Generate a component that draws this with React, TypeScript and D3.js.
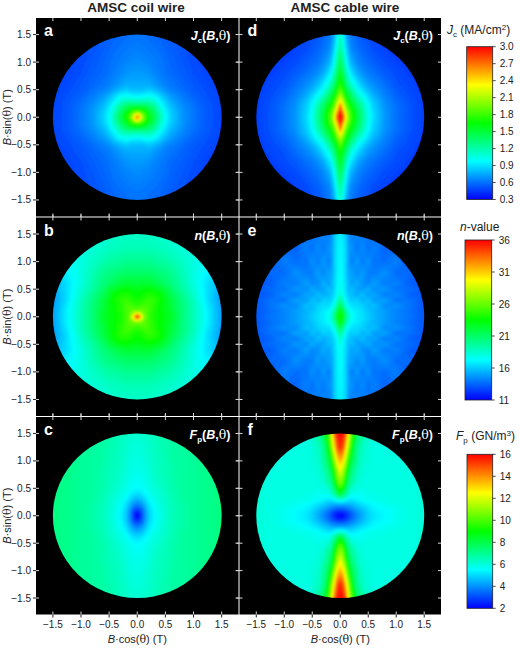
import React, { useEffect, useRef } from 'react';
import * as d3 from 'd3';

// field grid, one quadrant of the (B cos, B sin) plane, mirrored when drawn
const xGrid = [0, 0.05, 0.1, 0.15, 0.2, 0.3, 0.4, 0.5, 0.6, 0.8, 1, 1.25, 1.55];
const yGrid = [0, 0.05, 0.1, 0.2, 0.3, 0.4, 0.5, 0.6, 0.8, 1, 1.25, 1.55];

const jcCoil = [
  [2.75, 2.35, 2.0, 1.8, 1.65, 1.45, 1.2, 0.98, 0.85, 0.7, 0.61, 0.53, 0.47],
  [2.45, 2.2, 1.95, 1.75, 1.6, 1.42, 1.18, 0.97, 0.85, 0.7, 0.61, 0.53, 0.47],
  [1.9, 1.85, 1.75, 1.65, 1.55, 1.38, 1.15, 0.96, 0.84, 0.7, 0.61, 0.53, 0.47],
  [1.45, 1.45, 1.45, 1.42, 1.38, 1.25, 1.06, 0.9, 0.8, 0.68, 0.6, 0.53, 0.47],
  [1.12, 1.12, 1.14, 1.14, 1.14, 1.08, 0.94, 0.84, 0.75, 0.65, 0.58, 0.52, 0.47],
  [0.93, 0.93, 0.94, 0.96, 0.98, 0.94, 0.86, 0.76, 0.7, 0.62, 0.56, 0.51, 0.47],
  [0.8, 0.8, 0.8, 0.82, 0.84, 0.8, 0.74, 0.68, 0.64, 0.59, 0.54, 0.5, 0.47],
  [0.76, 0.76, 0.76, 0.76, 0.76, 0.72, 0.68, 0.64, 0.61, 0.57, 0.53, 0.49, 0.46],
  [0.71, 0.71, 0.71, 0.7, 0.69, 0.66, 0.63, 0.6, 0.58, 0.55, 0.51, 0.48, 0.46],
  [0.67, 0.67, 0.66, 0.66, 0.65, 0.63, 0.61, 0.59, 0.57, 0.53, 0.5, 0.47, 0.45],
  [0.63, 0.63, 0.62, 0.62, 0.61, 0.6, 0.59, 0.57, 0.55, 0.52, 0.49, 0.46, 0.44],
  [0.59, 0.59, 0.59, 0.59, 0.58, 0.57, 0.56, 0.55, 0.53, 0.5, 0.48, 0.45, 0.43],
];

const jcCable = [
  [3.0, 2.8, 2.3, 1.95, 1.75, 1.5, 1.25, 1.02, 0.88, 0.7, 0.6, 0.52, 0.45],
  [3.0, 2.75, 2.25, 1.95, 1.75, 1.5, 1.25, 1.02, 0.88, 0.7, 0.6, 0.52, 0.45],
  [2.95, 2.55, 2.15, 1.9, 1.72, 1.47, 1.23, 1.0, 0.87, 0.7, 0.6, 0.52, 0.45],
  [2.75, 2.3, 1.95, 1.75, 1.62, 1.4, 1.18, 0.98, 0.85, 0.69, 0.6, 0.52, 0.45],
  [2.4, 2.05, 1.78, 1.62, 1.5, 1.28, 1.08, 0.93, 0.82, 0.67, 0.58, 0.51, 0.45],
  [2.1, 1.85, 1.65, 1.5, 1.38, 1.12, 0.98, 0.86, 0.76, 0.64, 0.56, 0.5, 0.45],
  [1.9, 1.7, 1.52, 1.38, 1.22, 1.0, 0.88, 0.78, 0.71, 0.62, 0.54, 0.49, 0.44],
  [1.75, 1.58, 1.4, 1.22, 1.08, 0.92, 0.8, 0.72, 0.67, 0.59, 0.52, 0.48, 0.44],
  [1.58, 1.42, 1.2, 1.0, 0.9, 0.76, 0.68, 0.63, 0.6, 0.54, 0.5, 0.46, 0.43],
  [1.42, 1.28, 1.02, 0.86, 0.76, 0.67, 0.61, 0.58, 0.55, 0.5, 0.47, 0.44, 0.42],
  [1.25, 1.1, 0.88, 0.74, 0.66, 0.6, 0.56, 0.53, 0.5, 0.47, 0.44, 0.42, 0.4],
  [1.1, 0.95, 0.75, 0.65, 0.6, 0.55, 0.52, 0.5, 0.47, 0.44, 0.42, 0.4, 0.38],
];

const nCoil = [
  [36, 32, 28, 26, 25, 24, 23.5, 23, 22.5, 20.5, 19, 17, 14.5],
  [31, 29, 27, 25.5, 25, 24, 23.5, 23, 22.5, 20.5, 19, 17, 14.5],
  [26, 26.5, 26, 25.5, 25, 24.2, 23.5, 23, 22.3, 20.5, 19, 17, 14.5],
  [24.5, 24.8, 25, 25.3, 25, 24.3, 23.5, 23, 22, 20.5, 19, 16.8, 14.5],
  [24, 24, 24.3, 24.6, 24.8, 24.5, 23.8, 22.8, 22, 20.3, 18.8, 16.5, 14.5],
  [23.5, 23.5, 23.8, 24, 24.2, 24, 23.5, 22.5, 21.5, 20, 18.5, 16.5, 14.5],
  [23, 23, 23, 23.3, 23.3, 23, 22.5, 22, 21, 19.5, 18.3, 16.5, 15],
  [22, 22.3, 22.3, 22.3, 22.3, 22, 21.5, 21, 20.5, 19.3, 18, 16.5, 15],
  [21, 21, 21, 21, 21, 20.8, 20.5, 20.3, 20, 19, 18, 17, 16],
  [20, 20, 20, 20, 20, 19.8, 19.6, 19.5, 19.2, 18.6, 18, 17.3, 16.5],
  [19, 19, 19, 19, 19, 18.9, 18.8, 18.7, 18.5, 18.2, 18, 17.5, 17],
  [18.5, 18.5, 18.5, 18.5, 18.5, 18.4, 18.4, 18.3, 18.2, 18, 18, 17.5, 17],
];

const nCable = [
  [24, 23, 20.5, 18.5, 17.5, 16.8, 16.5, 16, 15.5, 14.8, 14.3, 13.8, 13],
  [24, 22.5, 20, 18.5, 17.5, 16.8, 16.5, 16, 15.5, 14.8, 14.3, 13.8, 13],
  [23.5, 22, 19.5, 18, 17.2, 16.8, 16.3, 15.8, 15.4, 14.9, 14.2, 13.7, 13],
  [21.5, 20, 18, 17, 16.5, 16.4, 16.2, 15.5, 15.8, 14.4, 14.6, 13.8, 13],
  [20, 18.5, 17, 16.3, 16, 16.2, 15.3, 15.9, 14.8, 15, 13.8, 13.8, 13],
  [18.5, 17.5, 16.5, 16, 15.6, 15.2, 15.8, 14.8, 15.2, 14, 14.4, 13.4, 13],
  [18, 17.2, 16.4, 15.4, 15.8, 15, 14.8, 15.4, 14.4, 14.8, 13.8, 13.7, 13],
  [17.7, 17, 16.3, 15.6, 14.8, 15.4, 14.5, 14.3, 15, 14, 14.2, 13.3, 13.1],
  [17.4, 16.9, 16.2, 15, 15.1, 14.3, 14.9, 14.1, 14, 14.6, 13.6, 13.6, 12.9],
  [17.4, 16.8, 16.2, 14.9, 14.1, 14.8, 14, 14.6, 13.8, 13.7, 14.1, 13.1, 13.1],
  [17.2, 16.8, 16.2, 14.8, 14.7, 13.9, 14.5, 13.7, 14.2, 13.4, 13.7, 13, 12.9],
  [17, 16.6, 16, 14.6, 13.9, 14.4, 13.7, 14.2, 13.5, 13.7, 13.1, 13.1, 13],
];

const fpCoil = [
  [2, 2.4, 3.4, 4.2, 4.8, 5.4, 5.8, 6.1, 6.4, 6.7, 6.9, 7.1, 7.2],
  [2.3, 2.6, 3.5, 4.2, 4.8, 5.4, 5.8, 6.1, 6.4, 6.7, 6.9, 7.1, 7.2],
  [2.8, 3, 3.6, 4.3, 4.9, 5.5, 5.9, 6.1, 6.4, 6.7, 6.9, 7.1, 7.2],
  [3.7, 3.9, 4.2, 4.7, 5.1, 5.6, 5.9, 6.2, 6.4, 6.7, 6.9, 7.1, 7.2],
  [4.5, 4.6, 4.8, 5.1, 5.4, 5.8, 6, 6.2, 6.5, 6.8, 6.9, 7.1, 7.2],
  [5.1, 5.1, 5.3, 5.5, 5.7, 5.9, 6.1, 6.3, 6.5, 6.8, 6.9, 7.1, 7.2],
  [5.5, 5.5, 5.6, 5.7, 5.8, 6, 6.2, 6.4, 6.6, 6.8, 6.9, 7.1, 7.2],
  [5.6, 5.6, 5.7, 5.8, 5.9, 6.1, 6.3, 6.4, 6.6, 6.8, 6.9, 7.1, 7.2],
  [5.8, 5.8, 5.8, 5.9, 6, 6.2, 6.4, 6.5, 6.6, 6.8, 6.9, 7.1, 7.2],
  [5.9, 5.9, 5.9, 6, 6.1, 6.3, 6.4, 6.5, 6.7, 6.8, 6.9, 7.1, 7.2],
  [6, 6, 6, 6.1, 6.2, 6.3, 6.5, 6.6, 6.7, 6.8, 6.9, 7.1, 7.2],
  [6.2, 6.2, 6.2, 6.2, 6.3, 6.4, 6.5, 6.6, 6.7, 6.8, 7, 7.1, 7.2],
];

const fpCable = [
  [2, 2.2, 2.5, 2.9, 3.3, 3.9, 4.4, 4.9, 5.2, 5.5, 5.7, 5.9, 6],
  [2.3, 2.4, 2.7, 3, 3.4, 4, 4.5, 4.9, 5.2, 5.5, 5.7, 5.9, 6],
  [2.9, 3, 3.2, 3.4, 3.7, 4.2, 4.6, 5, 5.3, 5.5, 5.7, 5.9, 6],
  [4.3, 4.3, 4.3, 4.4, 4.5, 4.8, 5.1, 5.3, 5.5, 5.7, 5.8, 5.9, 6],
  [6.2, 6, 5.6, 5.3, 5.2, 5.4, 5.6, 5.7, 5.8, 5.8, 5.9, 5.9, 6],
  [8.3, 7.9, 7, 6.2, 5.8, 5.7, 5.7, 5.8, 5.8, 5.9, 5.9, 5.9, 6],
  [9.7, 9, 7.8, 6.8, 6.2, 5.9, 5.8, 5.9, 5.9, 5.9, 5.9, 5.9, 6],
  [10.7, 10, 8.5, 7.4, 6.7, 6.1, 5.9, 5.9, 5.9, 5.9, 5.9, 5.9, 6],
  [12.2, 11.2, 9.5, 8.2, 7.3, 6.4, 6, 5.9, 5.9, 5.9, 5.9, 5.9, 6],
  [13.5, 12.8, 11, 9.2, 8, 6.8, 6.1, 6, 5.9, 5.9, 5.9, 5.9, 6],
  [15.5, 15, 13, 11, 9, 7, 6.3, 6, 5.9, 5.9, 5.9, 5.9, 6],
  [16, 16, 15, 12.5, 10.5, 8, 6.8, 6.2, 5.9, 5.9, 5.9, 5.9, 6],
];

const jcTicks = [0.3, 0.6, 0.9, 1.2, 1.5, 1.8, 2.1, 2.4, 2.7, 3.0];
const nTicks = [11, 16, 21, 26, 31, 36];
const fpTicks = [2, 4, 6, 8, 10, 12, 14, 16];
const axisTicks = [-1.5, -1, -0.5, 0, 0.5, 1, 1.5];
const rampColors = ['#0000ff', '#00ffff', '#00ff00', '#ffff00', '#ff0000'];

const ramp = d3.scaleLinear<string>().domain([0, 0.25, 0.5, 0.75, 1]).range(rampColors);
const FONT = '"Liberation Sans", Arial, sans-serif';

const panels = [
  { key: 'a', grid: jcCoil, dom: [0.3, 3], sym: 'J', sub: 'c', col: 0, row: 0 },
  { key: 'b', grid: nCoil, dom: [11, 36], sym: 'n', sub: '', col: 0, row: 1 },
  { key: 'c', grid: fpCoil, dom: [2, 16], sym: 'F', sub: 'p', col: 0, row: 2 },
  { key: 'd', grid: jcCable, dom: [0.3, 3], sym: 'J', sub: 'c', col: 1, row: 0 },
  { key: 'e', grid: nCable, dom: [11, 36], sym: 'n', sub: '', col: 1, row: 1 },
  { key: 'f', grid: fpCable, dom: [2, 16], sym: 'F', sub: 'p', col: 1, row: 2 },
];
const colBounds = [[36, 238.5], [239.5, 441]];
const rowBounds = [[18, 216.5], [217.5, 416], [417, 614.5]];

const bars = [
  { ticks: jcTicks, x: [466.7, 492.7], y: [199.5, 46.7] },
  { ticks: nTicks, x: [465, 491.7], y: [400, 240] },
  { ticks: fpTicks, x: [467, 492.7], y: [608.3, 454.3] },
];

function fieldValues(grid: number[][], n: number, m: number) {
  const rowScales = grid.map(r => d3.scaleLinear().domain(xGrid).range(r));
  const px = d3.scaleLinear().domain([0, n - 1]).range([-1.55, 1.55]);
  const py = d3.scaleLinear().domain([0, m - 1]).range([1.55, -1.55]);
  const out = new Float64Array(n * m);
  for (let j = 0; j < m; j++) {
    const ay = Math.abs(py(j));
    for (let i = 0; i < n; i++) {
      const ax = Math.abs(px(i));
      const col = d3.scaleLinear().domain(yGrid).range(rowScales.map(s => s(ax)));
      out[j * n + i] = col(ay);
    }
  }
  return out;
}

function drawPanel(svg: any, p: any) {
  const [x0, x1] = colBounds[p.col];
  const [y0, y1] = rowBounds[p.row];
  const x = d3.scaleLinear().domain([-1.8, 1.8]).range([x0, x1]);
  const y = d3.scaleLinear().domain([-1.8, 1.8]).range([y1, y0]);
  const g = svg.append('g');

  g.append('rect').attr('x', x0).attr('y', y0).attr('width', x1 - x0).attr('height', y1 - y0).attr('fill', '#000');

  const clipId = `disc-${p.key}`;
  svg.select('defs').append('clipPath').attr('id', clipId).append('ellipse')
    .attr('cx', x(0)).attr('cy', y(0)).attr('rx', x(1.5) - x(0)).attr('ry', y(0) - y(1.5));

  const n = 170;
  const m = 170;
  const values = fieldValues(p.grid, n, m);
  const span = p.dom[1] - p.dom[0];
  const levels = 128;
  const thresholds = d3.range(0, levels).map(i => p.dom[0] + (span * i) / levels);
  const contours = d3.contours().size([n, m]).thresholds(thresholds)(values as any);
  const path = d3.geoPath();
  const sx = (x(1.55) - x(-1.55)) / (n - 1);
  const sy = (y(-1.55) - y(1.55)) / (m - 1);

  const field = g.append('g').attr('clip-path', `url(#${clipId})`);
  const soft = field.append('g').attr('filter', 'url(#soft)');
  soft.append('rect')
    .attr('x', x(-1.6)).attr('y', y(1.6)).attr('width', x(1.6) - x(-1.6)).attr('height', y(-1.6) - y(1.6))
    .attr('fill', ramp(0));
  soft.append('g')
    .attr('transform', `translate(${x(-1.55) - 0.5 * sx},${y(1.55) - 0.5 * sy}) scale(${sx},${sy})`)
    .selectAll('path')
    .data(contours)
    .join('path')
    .attr('d', (d: any) => path(d))
    .attr('fill', (d: any) => ramp((d.value + span / (2 * levels) - p.dom[0]) / span));

  // frame lines and ticks, white over the black and straddling the shared edges
  const stroke = '#d8d8d8';
  const line = (a: number, b: number, c: number, d: number, col = stroke) =>
    svg.append('line').attr('x1', a).attr('y1', b).attr('x2', c).attr('y2', d).attr('stroke', col).attr('stroke-width', 1);

  axisTicks.forEach(t => {
    // top and bottom
    if (p.row > 0) line(x(t), y0 - 3, x(t), y0 + 3);
    else line(x(t), y0, x(t), y0 + 3);
    if (p.row < 2) line(x(t), y1 - 3, x(t), y1 + 3);
    else { line(x(t), y1 - 3, x(t), y1); line(x(t), y1, x(t), y1 + 3, '#222'); }
    // left and right
    if (p.col > 0) line(x0 - 3, y(t), x0 + 3, y(t));
    else { line(x0, y(t), x0 + 3, y(t)); line(x0 - 3, y(t), x0, y(t), '#222'); }
    if (p.col < 1) line(x1 - 3, y(t), x1 + 3, y(t));
    else line(x1 - 3, y(t), x1, y(t));
  });

  const text = g.append('text').attr('font-family', FONT);
  text.attr('x', x0 + 8).attr('y', y0 + 18).attr('font-size', 16).attr('font-weight', 700)
    .attr('fill', '#fff').text(p.key);

  const lab = g.append('text').attr('font-family', FONT).attr('font-size', 12.5).attr('font-weight', 700)
    .attr('fill', '#fff').attr('text-anchor', 'end').attr('x', x1 - 8).attr('y', y0 + 22);
  lab.append('tspan').attr('font-style', 'italic').text(p.sym);
  if (p.sub) lab.append('tspan').attr('font-size', 8).attr('dy', 3).text(p.sub);
  lab.append('tspan').attr('dy', p.sub ? -3 : 0).text('(');
  lab.append('tspan').attr('font-style', 'italic').text('B');
  lab.append('tspan').text(',');
  lab.append('tspan').attr('font-family', '"DejaVu Serif", serif').attr('font-weight', 400).text('θ');
  lab.append('tspan').text(')');

  // tick labels on the outer sides only
  if (p.col === 0) {
    axisTicks.forEach(t => {
      g.append('text').attr('font-family', FONT).attr('font-size', 10).attr('fill', '#222')
        .attr('text-anchor', 'end').attr('x', x0 - 5).attr('y', y(t) + 3.5).text(d3.format('.1f')(t));
    });
    const yl = g.append('text').attr('font-family', FONT).attr('font-size', 11).attr('fill', '#222')
      .attr('text-anchor', 'middle').attr('transform', `translate(10.5,${y(0)}) rotate(-90)`);
    yl.append('tspan').attr('font-style', 'italic').text('B');
    yl.append('tspan').text('·sin(');
    yl.append('tspan').attr('font-family', '"DejaVu Serif", serif').text('θ');
    yl.append('tspan').text(') (T)');
  }
  if (p.row === 2) {
    axisTicks.forEach(t => {
      g.append('text').attr('font-family', FONT).attr('font-size', 10).attr('fill', '#222')
        .attr('text-anchor', 'middle').attr('x', x(t)).attr('y', y1 + 13.5).text(d3.format('.1f')(t));
    });
    const xl = g.append('text').attr('font-family', FONT).attr('font-size', 11).attr('fill', '#222')
      .attr('text-anchor', 'middle').attr('x', x(0)).attr('y', y1 + 28);
    xl.append('tspan').attr('font-style', 'italic').text('B');
    xl.append('tspan').text('·cos(');
    xl.append('tspan').attr('font-family', '"DejaVu Serif", serif').text('θ');
    xl.append('tspan').text(') (T)');
  }
}

function drawBar(svg: any, b: any, i: number) {
  const dom = [b.ticks[0], b.ticks[b.ticks.length - 1]];
  const scale = d3.scaleLinear().domain(dom).range(b.y);
  const id = `ramp-${i}`;
  const grad = svg.select('defs').append('linearGradient').attr('id', id)
    .attr('x1', 0).attr('y1', 1).attr('x2', 0).attr('y2', 0);
  rampColors.forEach((c, k) => grad.append('stop').attr('offset', k / 4).attr('stop-color', c));
  svg.append('rect').attr('x', b.x[0]).attr('y', b.y[1]).attr('width', b.x[1] - b.x[0])
    .attr('height', b.y[0] - b.y[1]).attr('fill', `url(#${id})`).attr('stroke', '#222').attr('stroke-width', 0.8);
  const fmt = i === 0 ? d3.format('.1f') : d3.format('d');
  b.ticks.forEach((t: number) => {
    svg.append('line').attr('x1', b.x[1]).attr('x2', b.x[1] + 3).attr('y1', scale(t)).attr('y2', scale(t))
      .attr('stroke', '#222').attr('stroke-width', 0.8);
    svg.append('text').attr('font-family', FONT).attr('font-size', 10).attr('fill', '#222')
      .attr('x', b.x[1] + 7).attr('y', scale(t) + 3.5).text(fmt(t));
  });
}

function legendTitle(svg: any, x: number, y: number, sym: string, sub: string, rest: string, sup: string) {
  const t = svg.append('text').attr('font-family', FONT).attr('font-size', 12).attr('fill', '#222').attr('x', x).attr('y', y);
  t.append('tspan').attr('font-style', 'italic').text(sym);
  if (sub) t.append('tspan').attr('font-size', 8).attr('dy', 3).text(sub);
  t.append('tspan').attr('dy', sub ? -3 : 0).text(rest);
  if (sup) {
    t.append('tspan').attr('font-size', 8).attr('dy', -4).text(sup);
    t.append('tspan').attr('dy', 4).text(')');
  }
}

export default function App() {
  const ref = useRef<SVGSVGElement>(null);
  useEffect(() => {
    const svg = d3.select(ref.current);
    svg.selectAll('*').remove();
    const defs = svg.append('defs');
    defs.append('filter').attr('id', 'soft').append('feGaussianBlur').attr('stdDeviation', 0.8);
    svg.append('rect').attr('width', 520).attr('height', 649).attr('fill', '#fff');
    panels.forEach(p => drawPanel(svg, p));
    bars.forEach((b, i) => drawBar(svg, b, i));

    [['AMSC coil wire', 136], ['AMSC cable wire', 345]].forEach(([s, x]) => {
      svg.append('text').attr('font-family', FONT).attr('font-size', 13.5).attr('font-weight', 700).attr('fill', '#222')
        .attr('text-anchor', 'middle').attr('x', x as number).attr('y', 11.5).text(s as string);
    });

    legendTitle(svg, 447, 34, 'J', 'c', ' (MA/cm', '2');
    legendTitle(svg, 460, 231, 'n', '', '-value', '');
    legendTitle(svg, 456, 440, 'F', 'p', ' (GN/m', '3');
  }, []);
  return <svg ref={ref} width={520} height={649} style={{ position: 'absolute', left: 0, top: 0, display: 'block' }} />;
}
